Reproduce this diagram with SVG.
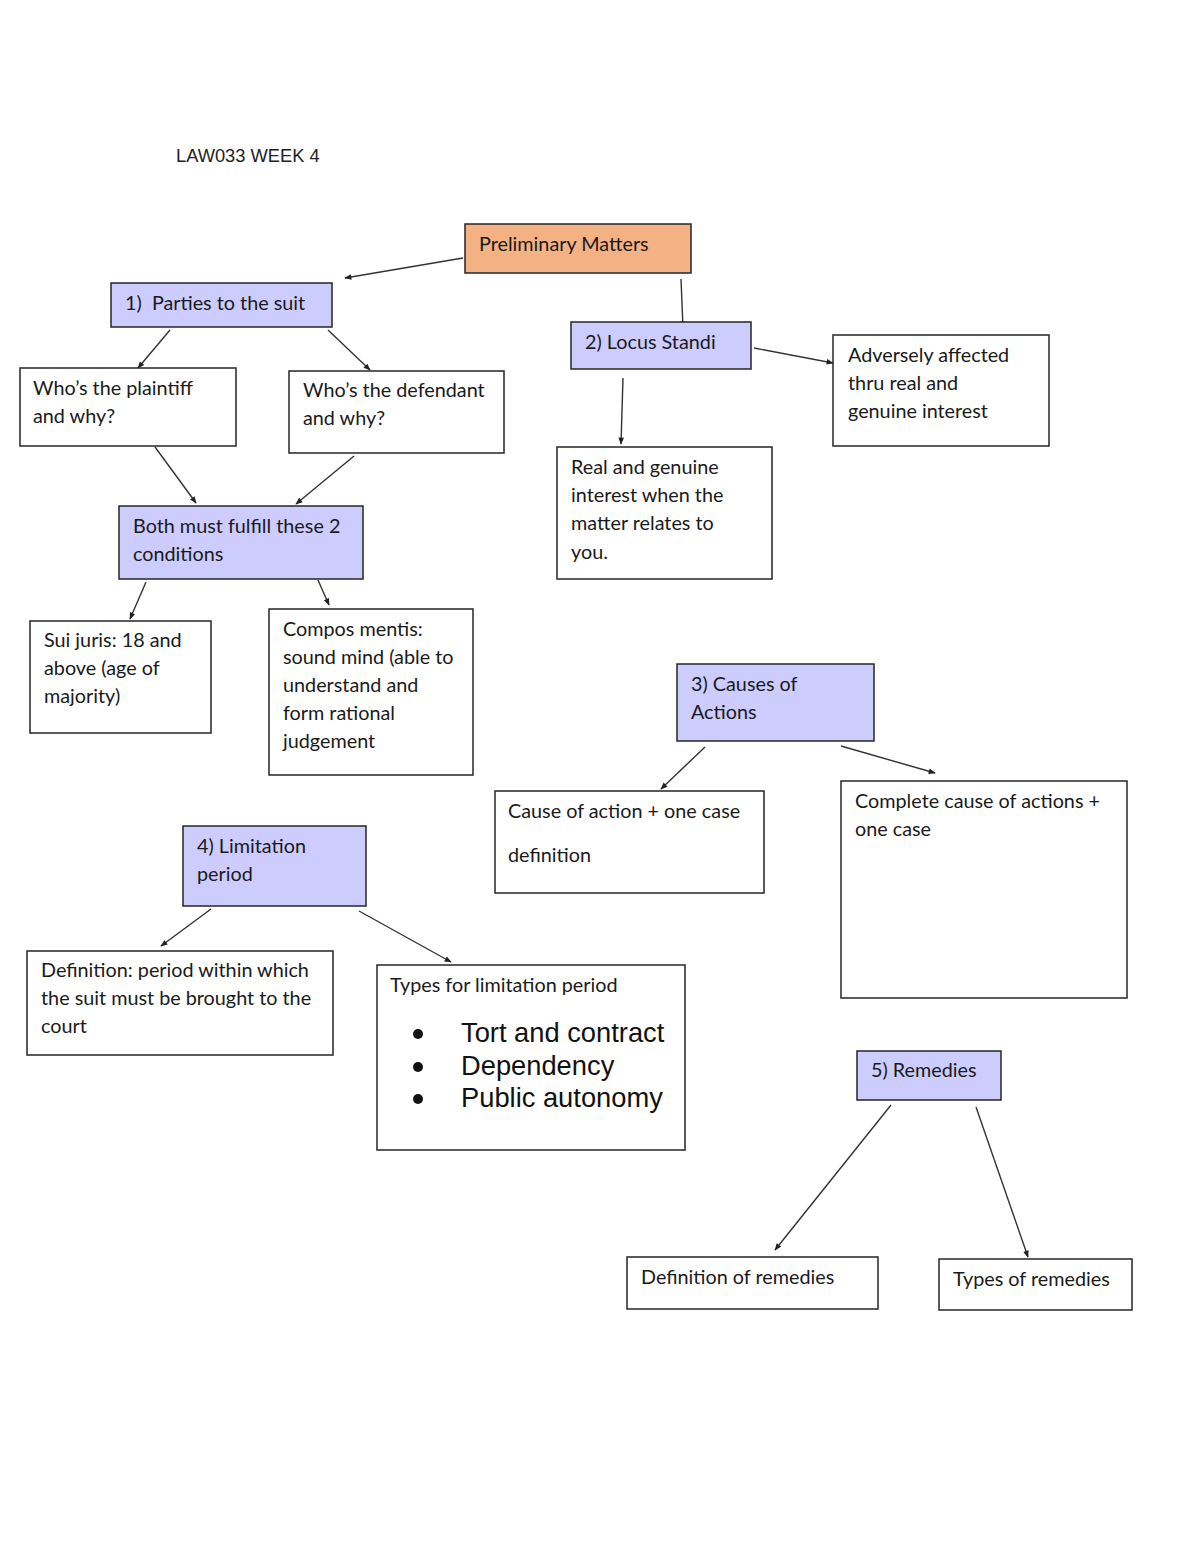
<svg xmlns="http://www.w3.org/2000/svg" width="1200" height="1553" viewBox="0 0 1200 1553">
<style>
.box{fill:#ffffff;stroke:#262626;stroke-width:1.5}
.blue{fill:#ccccff;stroke:#262626;stroke-width:1.5}
.orange{fill:#f4b183;stroke:#262626;stroke-width:1.5}
.t{font-family:Lato,"Open Sans","Liberation Sans",sans-serif;font-size:19.8px;fill:#1a1a1a}
.big{font-family:"Liberation Sans",Arial,sans-serif;font-size:27.3px;fill:#111}
.title{font-family:"Liberation Sans",Arial,sans-serif;font-size:18.3px;fill:#222}
.c{stroke:#333;stroke-width:1.4;fill:none;marker-end:url(#ah)}
</style>
<defs>
<marker id="ah" viewBox="0 0 10 10" refX="9" refY="5" markerWidth="8" markerHeight="7" markerUnits="userSpaceOnUse" orient="auto">
<path d="M0,1 L10,5 L0,9 z" fill="#222"/>
</marker>
</defs>
<rect width="1200" height="1553" fill="#ffffff"/>
<text class="title" x="176" y="162">LAW033 WEEK 4</text>

<g id="connectors">
<line class="c" x1="463" y1="258" x2="345" y2="278"/>
<line class="c" x1="681" y1="279" x2="683" y2="328"/>
<line class="c" x1="170" y1="330" x2="138" y2="368"/>
<line class="c" x1="328" y1="330" x2="370" y2="370"/>
<line class="c" x1="754" y1="348" x2="833" y2="363"/>
<line class="c" x1="623" y1="378" x2="621" y2="444"/>
<line class="c" x1="155" y1="447" x2="196" y2="503"/>
<line class="c" x1="354" y1="456" x2="296" y2="504"/>
<line class="c" x1="146" y1="582" x2="130" y2="619"/>
<line class="c" x1="318" y1="580" x2="329" y2="605"/>
<line class="c" x1="705" y1="747" x2="661" y2="789"/>
<line class="c" x1="841" y1="746" x2="935" y2="773"/>
<line class="c" x1="211" y1="909" x2="161" y2="946"/>
<line class="c" x1="359" y1="911" x2="451" y2="962"/>
<line class="c" x1="891" y1="1105" x2="775" y2="1250"/>
<line class="c" x1="976" y1="1107" x2="1028" y2="1257"/>
</g>

<g id="preliminary">
<rect class="orange" x="465" y="224" width="226" height="49"/>
<text class="t" x="479" y="251">Preliminary Matters</text>
</g>
<g id="parties">
<rect class="blue" x="111" y="283" width="221" height="44"/>
<text class="t" x="125" y="310" xml:space="preserve">1)  Parties to the suit</text>
</g>
<g id="locus">
<rect class="blue" x="571" y="322" width="180" height="47"/>
<text class="t" x="585" y="349">2) Locus Standi</text>
</g>
<g id="adversely">
<rect class="box" x="833" y="335" width="216" height="111"/>
<text class="t" x="848" y="362">Adversely affected</text>
<text class="t" x="848" y="390">thru real and</text>
<text class="t" x="848" y="418">genuine interest</text>
</g>
<g id="plaintiff">
<rect class="box" x="20" y="368" width="216" height="78"/>
<text class="t" x="33" y="395">Who’s the plaintiff</text>
<text class="t" x="33" y="423">and why?</text>
</g>
<g id="defendant">
<rect class="box" x="289" y="371" width="215" height="82"/>
<text class="t" x="303" y="397">Who’s the defendant</text>
<text class="t" x="303" y="425">and why?</text>
</g>
<g id="realgenuine">
<rect class="box" x="557" y="447" width="215" height="132"/>
<text class="t" x="571" y="474">Real and genuine</text>
<text class="t" x="571" y="502">interest when the</text>
<text class="t" x="571" y="530">matter relates to</text>
<text class="t" x="571" y="559">you.</text>
</g>
<g id="both">
<rect class="blue" x="119" y="506" width="244" height="73"/>
<text class="t" x="133" y="533">Both must fulfill these 2</text>
<text class="t" x="133" y="561">conditions</text>
</g>
<g id="suijuris">
<rect class="box" x="30" y="621" width="181" height="112"/>
<text class="t" x="44" y="647">Sui juris: 18 and</text>
<text class="t" x="44" y="675">above (age of</text>
<text class="t" x="44" y="703">majority)</text>
</g>
<g id="compos">
<rect class="box" x="269" y="609" width="204" height="166"/>
<text class="t" x="283" y="636">Compos mentis:</text>
<text class="t" x="283" y="664">sound mind (able to</text>
<text class="t" x="283" y="692">understand and</text>
<text class="t" x="283" y="720">form rational</text>
<text class="t" x="283" y="748">judgement</text>
</g>
<g id="causes">
<rect class="blue" x="677" y="664" width="197" height="77"/>
<text class="t" x="691" y="691">3) Causes of</text>
<text class="t" x="691" y="719">Actions</text>
</g>
<g id="causeofaction">
<rect class="box" x="495" y="791" width="269" height="102"/>
<text class="t" x="508" y="818">Cause of action + one case</text>
<text class="t" x="508" y="862">definition</text>
</g>
<g id="complete">
<rect class="box" x="841" y="781" width="286" height="217"/>
<text class="t" x="855" y="808">Complete cause of actions +</text>
<text class="t" x="855" y="836">one case</text>
</g>
<g id="limitation">
<rect class="blue" x="183" y="826" width="183" height="80"/>
<text class="t" x="197" y="853">4) Limitation</text>
<text class="t" x="197" y="881">period</text>
</g>
<g id="definition">
<rect class="box" x="27" y="951" width="306" height="104"/>
<text class="t" x="41" y="977">Definition: period within which</text>
<text class="t" x="41" y="1005">the suit must be brought to the</text>
<text class="t" x="41" y="1033">court</text>
</g>
<g id="types">
<rect class="box" x="377" y="965" width="308" height="185"/>
<text class="t" x="390" y="992">Types for limitation period</text>
<circle cx="418" cy="1034" r="5" fill="#111"/>
<circle cx="418" cy="1067" r="5" fill="#111"/>
<circle cx="418" cy="1099" r="5" fill="#111"/>
<text class="big" x="461" y="1042">Tort and contract</text>
<text class="big" x="461" y="1075">Dependency</text>
<text class="big" x="461" y="1107">Public autonomy</text>
</g>
<g id="remedies">
<rect class="blue" x="857" y="1051" width="144" height="49"/>
<text class="t" x="871" y="1077">5) Remedies</text>
</g>
<g id="defremedies">
<rect class="box" x="627" y="1257" width="251" height="52"/>
<text class="t" x="641" y="1284">Definition of remedies</text>
</g>
<g id="typesremedies">
<rect class="box" x="939" y="1259" width="193" height="51"/>
<text class="t" x="953" y="1286">Types of remedies</text>
</g>
</svg>
